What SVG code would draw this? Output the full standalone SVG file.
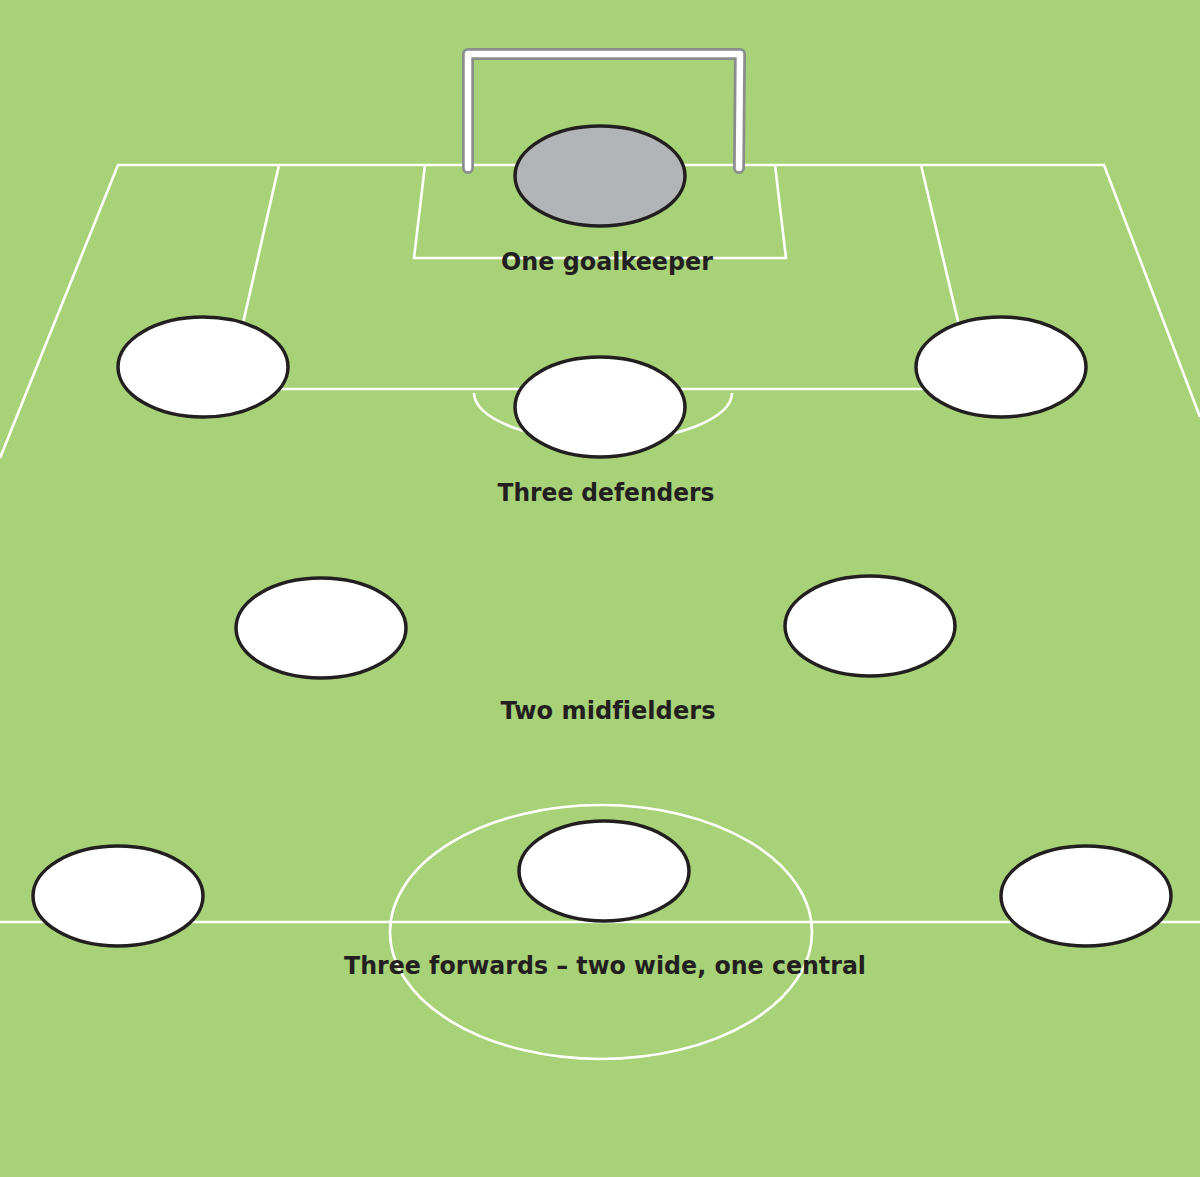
<svg xmlns="http://www.w3.org/2000/svg" width="1200" height="1177" viewBox="0 0 1200 1177">
<style>
.ln{fill:none;stroke:#ffffff;stroke-width:2.6}
.pl{fill:#ffffff;stroke:#231f20;stroke-width:3.5}
.gk{fill:#b3b4b7;stroke:#231f20;stroke-width:3.5}
.lb{font-family:"DejaVu Sans","Liberation Sans",Arial,sans-serif;font-weight:bold;font-size:24.5px;fill:#231f20;text-anchor:middle;font-variant-ligatures:none}
</style>
<rect x="0" y="0" width="1200" height="1177" fill="#a8d277"/>
<g id="pitch">
<path class="ln" d="M0,458 L118,165 L1104,165 L1200,417"/>
<path class="ln" d="M279,165 L228,389 L974,389 L921,165"/>
<path class="ln" d="M425,165 L414,258 L786,258 L775,165"/>
<path class="ln" d="M474,393 A129,48 0 0 0 732,393"/>
<line class="ln" x1="0" y1="922" x2="1200" y2="922"/>
<ellipse class="ln" cx="601" cy="932" rx="211" ry="127"/>
</g>
<g id="goal">
<path d="M468,168 L468,54 L740,54 L739,168" fill="none" stroke="#8a8c8e" stroke-width="12" stroke-linejoin="round" stroke-linecap="round"/>
<path d="M468,168 L468,54 L740,54 L739,168" fill="none" stroke="#ffffff" stroke-width="6.5" stroke-linejoin="round" stroke-linecap="round"/>
</g>
<g id="goalkeeper"><ellipse class="gk" cx="600" cy="176" rx="85" ry="50"/></g>
<g id="defender-left"><ellipse class="pl" cx="203" cy="367" rx="85" ry="50"/></g>
<g id="defender-centre"><ellipse class="pl" cx="600" cy="407" rx="85" ry="50"/></g>
<g id="defender-right"><ellipse class="pl" cx="1001" cy="367" rx="85" ry="50"/></g>
<g id="midfielder-left"><ellipse class="pl" cx="321" cy="628" rx="85" ry="50"/></g>
<g id="midfielder-right"><ellipse class="pl" cx="870" cy="626" rx="85" ry="50"/></g>
<g id="forward-left"><ellipse class="pl" cx="118" cy="896" rx="85" ry="50"/></g>
<g id="forward-centre"><ellipse class="pl" cx="604" cy="871" rx="85" ry="50"/></g>
<g id="forward-right"><ellipse class="pl" cx="1086" cy="896" rx="85" ry="50"/></g>
<g id="connectors"></g>
<g id="labels">
<text class="lb" x="607" y="270" textLength="212" lengthAdjust="spacingAndGlyphs">One goalkeeper</text>
<text class="lb" x="606" y="501" textLength="217" lengthAdjust="spacingAndGlyphs">Three defenders</text>
<text class="lb" x="608" y="719" textLength="215" lengthAdjust="spacingAndGlyphs">Two midfielders</text>
<text class="lb" x="605" y="974" textLength="522" lengthAdjust="spacingAndGlyphs">Three forwards – two wide, one central</text>
</g>
</svg>
